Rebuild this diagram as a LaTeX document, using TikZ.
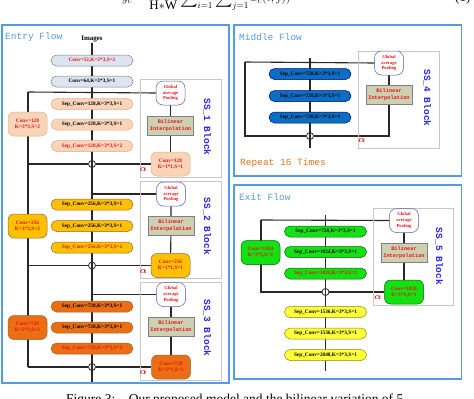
\documentclass[tikz,border=0pt]{standalone}
\usepackage{amsmath}
\usepackage{fontspec}
\setmainfont{Liberation Serif}
\newfontfamily\monof{Liberation Mono}
\usetikzlibrary{backgrounds}
\definecolor{panelblue}{RGB}{85,155,225}
\definecolor{lightnode}{RGB}{220,228,240}
\definecolor{peach}{RGB}{250,212,185}
\definecolor{gold}{RGB}{255,192,0}
\definecolor{orangeN}{RGB}{235,110,20}
\definecolor{midblue}{RGB}{10,110,195}
\definecolor{greenN}{RGB}{20,225,20}
\definecolor{yellowN}{RGB}{255,255,60}
\definecolor{khaki}{RGB}{205,208,178}
\definecolor{txtred}{RGB}{230,20,20}
\definecolor{ssblue}{RGB}{40,40,240}
\definecolor{repeatc}{RGB}{225,115,30}
\definecolor{linec}{RGB}{40,40,40}
\newcommand{\myNodeFont}{\fontsize{5.3}{6}\selectfont\bfseries}
\newcommand{\myPoolFont}{\fontsize{4.6}{5.8}\selectfont\bfseries}
\newcommand{\myBilFont}{\monof\fontsize{5.3}{7}\selectfont\bfseries}
\newcommand{\myTitleFont}{\monof\fontsize{9.5}{10}\selectfont}
\newcommand{\mySSFont}{\monof\fontsize{9.5}{10}\selectfont\bfseries}
\tikzset{
  base/.style={draw=#1, line width=0.5pt, inner sep=0pt, align=center, font=\myNodeFont},
  pill/.style={rounded corners=5.5pt, minimum width=82pt, minimum height=11pt},
  lconv/.style={rounded corners=6pt, minimum width=39pt, minimum height=24pt, text=txtred},
  pool/.style={rounded corners=7pt, minimum width=29pt, minimum height=24pt, fill=white, draw=gray!70!blue, line width=0.5pt, text=txtred, font=\myPoolFont, align=center, inner sep=0pt},
  bil/.style={minimum width=46pt, minimum height=19pt, fill=khaki, draw=gray, line width=0.5pt, text=txtred, font=\myBilFont, align=center, inner sep=0pt},
  ssbox/.style={draw=gray!45, line width=0.6pt},
  panel/.style={draw=panelblue, line width=1.6pt},
  conn/.style={draw=linec, line width=1.1pt},
  junc/.style={circle, draw=linec, line width=0.8pt, minimum size=7pt, inner sep=0pt},
  ttl/.style={font=\myTitleFont, text=panelblue, anchor=west, inner sep=0pt},
  sslabel/.style={font=\mySSFont, text=ssblue, rotate=-90, inner sep=0pt},
  alph/.style={text=txtred, font=\fontsize{9}{9}\selectfont, inner sep=0pt},
  peachN/.style={base=brown!60, fill=peach},
  goldN/.style={base=brown!80!black, fill=gold},
  orangeNd/.style={base=brown!80!black, fill=orangeN},
  greenNd/.style={base=green!40!black, fill=greenN},
  yellowNd/.style={base=olive, fill=yellowN}
}
\begin{document}
\begin{tikzpicture}[x=1pt,y=-1pt]
\useasboundingbox (0,0) rectangle (474,399);
% page fragments
\begin{scope}
\clip (0,0) rectangle (474,14);
\node[anchor=base west, inner sep=0pt] (frm) at (122,1.5) {\fontsize{13}{13}\selectfont $\displaystyle y_c=\frac{1}{\mathrm{H{*}W}}\sum\nolimits_{i=1}^{H}\sum\nolimits_{j=1}^{W}x_c(i,j))$};
\node[anchor=base west, inner sep=0pt] (eqn) at (455,1.5) {\fontsize{13}{13}\selectfont (1)};
\end{scope}
\begin{scope}
\clip (0,388) rectangle (474,399);
\node[anchor=base west, inner sep=0pt] (cap) at (66,403.5) {\fontsize{13.5}{13.5}\selectfont Figure 3:\quad Our proposed model and the bilinear variation of 5};
\end{scope}
% panels
\draw[panel] (2,25) rectangle (229,383);
\draw[panel] (234,25) rectangle (461.5,176);
\draw[panel] (234,185) rectangle (461.5,379);
\node[ttl] (t1) at (5,37) {Entry Flow};
\node[ttl] (t2) at (239,37) {Middle Flow};
\node[ttl] (t3) at (239,197) {Exit Flow};
% SS boxes
\draw[ssbox] (140,79) rectangle (221,177);
\draw[ssbox] (140,181) rectangle (221,278);
\draw[ssbox] (140,282) rectangle (221,380);
\draw[ssbox] (358,51) rectangle (439,148);
\draw[ssbox] (373,208) rectangle (453,305);
% ENTRY
\node[font=\fontsize{7}{7}\selectfont\bfseries, inner sep=1pt] (img) at (92,39) {Images};
\node[base=gray, pill, fill=lightnode, text=txtred] (e1) at (92,60.5) {Conv=32,K=3*3,S=2};
\node[base=gray, pill, fill=lightnode] (e2) at (92,81.5) {Conv=64,K=3*3,S=1};
\node[peachN, pill] (e3) at (92,104) {Sep\_Conv=128,K=3*3,S=1};
\node[peachN, pill] (e4) at (92,124.5) {Sep\_Conv=128,K=3*3,S=1};
\node[peachN, pill, text=txtred] (e5) at (92,146) {Sep\_Conv=128,K=3*3,S=2};
\node[goldN, pill] (e6) at (92,204.5) {Sep\_Conv=256,K=3*3,S=1};
\node[goldN, pill] (e7) at (92,226) {Sep\_Conv=256,K=3*3,S=1};
\node[goldN, pill, text=txtred] (e8) at (92,247.5) {Sep\_Conv=256,K=3*3,S=2};
\node[orangeNd, pill] (e9) at (92,306.5) {Sep\_Conv=728,K=3*3,S=1};
\node[orangeNd, pill] (e10) at (92,327.5) {Sep\_Conv=728,K=3*3,S=1};
\node[orangeNd, pill, text=txtred] (e11) at (92,348.5) {Sep\_Conv=728,K=3*3,S=2};
\node[peachN, lconv] (l1) at (27.5,124) {Conv=128\\K=3*3,S=2};
\node[goldN, lconv] (l2) at (27.5,226) {Conv=256\\K=3*3,S=2};
\node[orangeNd, lconv] (l3) at (27.5,327.5) {Conv=728\\K=3*3,S=2};
\node[pool] (p1) at (170.5,93) {Global\\average\\Pooling};
\node[bil] (b1) at (170.5,125.5) {Bilinear\\Interpolation};
\node[peachN, lconv] (c1) at (170.5,164) {Conv=128\\K=1*1,S=1};
\node[pool] (p2) at (171,194) {Global\\average\\Pooling};
\node[bil] (b2) at (171,226) {Bilinear\\Interpolation};
\node[goldN, lconv] (c2) at (170.5,265.5) {Conv=256\\K=1*1,S=1};
\node[pool] (p3) at (171,294.5) {Global\\average\\Pooling};
\node[bil] (b3) at (171,327) {Bilinear\\Interpolation};
\node[orangeNd, lconv] (c3) at (171,367) {Conv=728\\K=1*1,S=1};
\node[junc] (j1) at (92,164) {};
\node[junc] (j2) at (92,265.5) {};
\node[junc] (j3) at (92,367) {};
\node[alph] (a1) at (143.5,169.5) {$\boldsymbol{\alpha}$};
\node[alph] (a2) at (143.5,271) {$\boldsymbol{\alpha}$};
\node[alph] (a3) at (143.5,372.5) {$\boldsymbol{\alpha}$};
\node[sslabel] (s1) at (207,127) {SS\_1 Block};
\node[sslabel] (s2) at (207,226.5) {SS\_2 Block};
\node[sslabel] (s3) at (207,328) {SS\_3 Block};
\coordinate (eEnd) at (92,383);
\coordinate (r0) at (28,92);
\coordinate (rEnd) at (28,367);
\coordinate (h2) at (92,194);
\coordinate (h3) at (92,294.5);
\coordinate (rj1) at (28,164);
\coordinate (rj2) at (28,265.5);
% MIDDLE
\node[base=blue!50!black, pill, fill=midblue] (m1) at (310,74) {Sep\_Conv=728,K=3*3,S=1};
\node[base=blue!50!black, pill, fill=midblue] (m2) at (310,96) {Sep\_Conv=728,K=3*3,S=1};
\node[base=blue!50!black, pill, fill=midblue] (m3) at (310,117.5) {Sep\_Conv=728,K=3*3,S=1};
\node[pool] (p4) at (389,63) {Global\\average\\Pooling};
\node[bil] (b4) at (389,94.5) {Bilinear\\Interpolation};
\node[junc] (j4) at (310,136) {};
\node[alph] (a4) at (362,140.5) {$\boldsymbol{\alpha}$};
\node[sslabel] (s4) at (427,98) {SS\_4 Block};
\node[anchor=west, font=\myTitleFont, text=repeatc, inner sep=0pt] (rep) at (240,163) {Repeat 16 Times};
\coordinate (mTop) at (310,58);
\coordinate (mBot) at (310,148);
\coordinate (mL1) at (245,62);
\coordinate (mL2) at (245,136);
\coordinate (mR) at (389,136);
% EXIT
\node[greenNd, pill] (g1) at (325.5,231.5) {Sep\_Conv=728,K=3*3,S=1};
\node[greenNd, pill] (g2) at (325.5,252) {Sep\_Conv=1024,K=3*3,S=1};
\node[greenNd, pill, text=txtred] (g3) at (325.5,273.5) {Sep\_Conv=1024,K=3*3,S=2};
\node[yellowNd, pill] (y1) at (325.5,312) {Sep\_Conv=1536,K=3*3,S=1};
\node[yellowNd, pill] (y2) at (325.5,333.5) {Sep\_Conv=1536,K=3*3,S=1};
\node[yellowNd, pill] (y3) at (325.5,355) {Sep\_Conv=2048,K=3*3,S=1};
\node[greenNd, lconv] (x5) at (260.5,252.5) {Conv=1024\\K=3*3,S=2};
\node[pool] (p5) at (404,220.5) {Global\\average\\Pooling};
\node[bil] (b5) at (404,252.5) {Bilinear\\Interpolation};
\node[greenNd, lconv] (c5) at (404,292) {Conv=1024\\K=1*1,S=1};
\node[junc] (j5) at (325.5,292) {};
\node[alph] (a5) at (378,297.5) {$\boldsymbol{\alpha}$};
\node[sslabel] (s5) at (439,256.5) {SS\_5 Block};
\coordinate (xTop) at (325.5,215);
\coordinate (xBot) at (325.5,371);
\coordinate (xL1) at (261,220);
\coordinate (xL2) at (261,292);
% connectors
\begin{scope}[on background layer]
\draw[conn] (img.south) -- (eEnd);
\draw[conn] (r0) -- (p1.west);
\draw[conn] (r0) -- (rEnd);
\draw[conn] (rj1) -- (j1) -- (c1.west);
\draw[conn] (rj2) -- (j2) -- (c2.west);
\draw[conn] (rEnd) -- (j3) -- (c3.west);
\draw[conn] (h2) -- (p2.west);
\draw[conn] (h3) -- (p3.west);
\draw[conn] (p1) -- (b1) -- (c1);
\draw[conn] (p2) -- (b2) -- (c2);
\draw[conn] (p3) -- (b3) -- (c3);
\draw[conn] (mTop) -- (mBot);
\draw[conn] (mL1) -- (p4.west);
\draw[conn] (mL1) -- (mL2) -- (j4) -- (mR) -- (b4.south);
\draw[conn] (p4) -- (b4);
\draw[conn] (xTop) -- (xBot);
\draw[conn] (xL1) -- (p5.west);
\draw[conn] (xL1) -- (xL2) -- (j5) -- (c5.west);
\draw[conn] (p5) -- (b5) -- (c5);
\end{scope}
\end{tikzpicture}
\end{document}
